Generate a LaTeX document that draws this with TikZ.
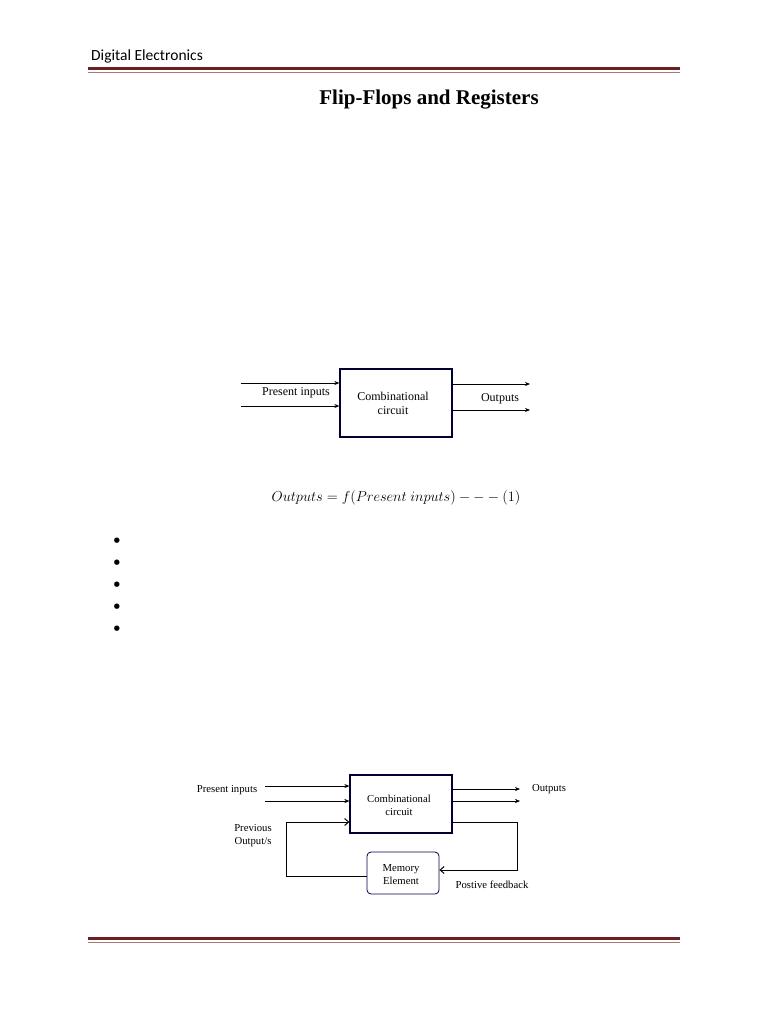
\documentclass[tikz,border=0pt]{standalone}
\usepackage{fontspec}
\setmainfont{Liberation Serif}
\newfontfamily\hdr{Carlito}
\newfontfamily\djv{DejaVu Sans}
\usetikzlibrary{arrows.meta}
\definecolor{rulered}{HTML}{6B1F1F}
\begin{document}
\begin{tikzpicture}[x=1pt,y=-1pt,
  lbl/.style={font=\fontsize{12}{14}\selectfont,inner sep=0pt},
  lbs/.style={font=\fontsize{10.7}{13}\selectfont,inner sep=0pt},
  blk/.style={draw=black!80!blue,line width=1.3pt,inner sep=0pt},
  arr/.style={-{Stealth[length=5pt,width=4pt]},line width=0.6pt},
  fb/.style={line width=1pt}]
\useasboundingbox (0,0) rectangle (768,1024);
% header
\node[anchor=west,inner sep=0pt,font=\hdr\fontsize{15.5}{17}\selectfont] (hd) at (91,56) {Digital Electronics};
\draw[rulered,line width=3pt] (88,68.5) -- (680,68.5);
\draw[rulered!60,line width=0.6pt] (88,72) -- (680,72);
\node[font=\bfseries\fontsize{21}{23}\selectfont,inner sep=0pt] (title) at (429,100) {Flip-Flops and Registers};
% diagram 1
\node[blk,minimum width=112pt,minimum height=68pt] (cc1) at (396,403) {};
\node[lbl,align=center] (cc1t) at (393,403) {Combinational\\circuit};
\coordinate (i1a) at (241,383); \coordinate (i1b) at (241,406);
\draw[arr] (i1a) -- (i1a -| cc1.west);
\draw[arr,line width=0.9pt] (i1b) -- (i1b -| cc1.west);
\node[lbl] (pi1) at (296,393) {Present inputs};
\coordinate (o1a) at (530,384); \coordinate (o1b) at (530,410);
\draw[arr,line width=0.9pt] (o1a -| cc1.east) -- (o1a);
\draw[arr] (o1b -| cc1.east) -- (o1b);
\node[lbl] (ou1) at (500,399) {Outputs};
\node[inner sep=0pt,font=\fontsize{14.3}{17}\selectfont] (eq) at (396,498) {$Outputs = f(Present\ inputs) - - - (1)$};
% bullets
\foreach \y [count=\i] in {541,563,585,607,629}
  \node[inner sep=0pt,font=\djv\fontsize{7}{8}\selectfont] (b\i) at (117,\y) {●};
% diagram 2
\node[blk,minimum width=102pt,minimum height=58pt] (cc2) at (401,804) {};
\node[lbs,align=center] (cc2t) at (399,805) {Combinational\\circuit};
\node[draw=black!70!blue,line width=0.8pt,rounded corners=4pt,minimum width=72pt,minimum height=42pt,inner sep=0pt] (mem) at (403,873) {};
\node[lbs,align=center] (memt) at (401,875) {Memory\\Element};
\coordinate (i2a) at (265,786); \coordinate (i2b) at (265,801);
\draw[arr] (i2a) -- (i2a -| cc2.west);
\draw[arr,line width=0.4pt] (i2b) -- (i2b -| cc2.west);
\node[lbs] (pi2) at (227,790) {Present inputs};
\coordinate (o2a) at (520,789); \coordinate (o2b) at (520,801);
\draw[arr] (o2a -| cc2.east) -- (o2a);
\draw[arr,line width=0.4pt] (o2b -| cc2.east) -- (o2b);
\node[lbs] (ou2) at (549,789) {Outputs};
\coordinate (fr) at (517,822); \coordinate (frb) at (517,870);
\draw[fb,-{Straight Barb[length=4pt,width=7pt]}] (fr -| cc2.east) -- (fr) -- (frb) -- (frb -| mem.east);
\coordinate (fl) at (286,876); \coordinate (flt) at (286,822);
\draw[fb,-{Straight Barb[length=4pt,width=7pt]}] (mem.west |- fl) -- (fl) -- (flt) -- (flt -| cc2.west);
\node[lbs,align=center] (prev) at (253,836) {Previous\\Output/s};
\node[lbs] (pf) at (492,885) {Postive feedback};
% footer
\draw[rulered,line width=3pt] (88,938) -- (680,938);
\draw[rulered!60,line width=0.6pt] (88,942) -- (680,942);
\end{tikzpicture}
\end{document}
